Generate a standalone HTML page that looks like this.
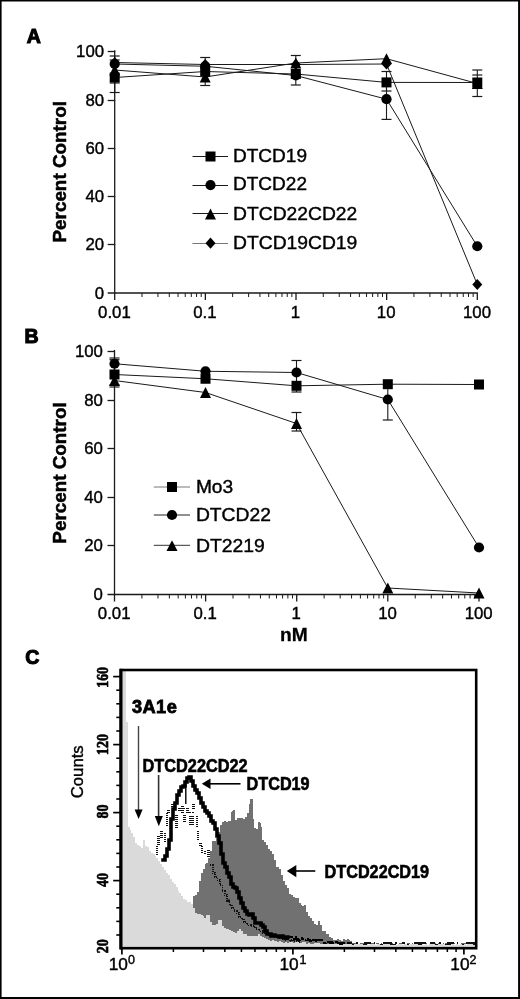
<!DOCTYPE html>
<html lang="en"><head><meta charset="utf-8"><title>Figure</title>
<style>html,body{margin:0;padding:0;background:#fff}body{width:520px;height:999px;overflow:hidden}svg text{fill:#000}</style></head>
<body>
<svg width="520" height="999" viewBox="0 0 520 999" style="display:block">
<g>
<rect x="-10" y="-10" width="540" height="1019" fill="#fff"/>
<path d="M-10,-10H530V1009H-10Z M1.6,1.6V997.1H518.1V1.6Z" fill="#000" fill-rule="evenodd"/>
<g id="panelA">
<line x1="114.70" y1="50.30" x2="114.70" y2="293.50" stroke="#1a1a1a" stroke-width="1.3"/>
<line x1="107.70" y1="293.00" x2="477.80" y2="293.00" stroke="#1a1a1a" stroke-width="1.3"/>
<line x1="107.70" y1="51.50" x2="115.20" y2="51.50" stroke="#1a1a1a" stroke-width="1.3"/>
<text x="104.10" y="57.10" font-family='"Liberation Sans", Arial, Helvetica, sans-serif' font-size="16.8" font-weight="normal" text-anchor="end"  stroke="#000" stroke-width="0.4">100</text>
<line x1="107.70" y1="100.50" x2="115.20" y2="100.50" stroke="#1a1a1a" stroke-width="1.3"/>
<text x="104.10" y="106.10" font-family='"Liberation Sans", Arial, Helvetica, sans-serif' font-size="16.8" font-weight="normal" text-anchor="end"  stroke="#000" stroke-width="0.4">80</text>
<line x1="107.70" y1="148.50" x2="115.20" y2="148.50" stroke="#1a1a1a" stroke-width="1.3"/>
<text x="104.10" y="154.10" font-family='"Liberation Sans", Arial, Helvetica, sans-serif' font-size="16.8" font-weight="normal" text-anchor="end"  stroke="#000" stroke-width="0.4">60</text>
<line x1="107.70" y1="196.50" x2="115.20" y2="196.50" stroke="#1a1a1a" stroke-width="1.3"/>
<text x="104.10" y="202.10" font-family='"Liberation Sans", Arial, Helvetica, sans-serif' font-size="16.8" font-weight="normal" text-anchor="end"  stroke="#000" stroke-width="0.4">40</text>
<line x1="107.70" y1="244.50" x2="115.20" y2="244.50" stroke="#1a1a1a" stroke-width="1.3"/>
<text x="104.10" y="250.10" font-family='"Liberation Sans", Arial, Helvetica, sans-serif' font-size="16.8" font-weight="normal" text-anchor="end"  stroke="#000" stroke-width="0.4">20</text>
<text x="104.10" y="299.10" font-family='"Liberation Sans", Arial, Helvetica, sans-serif' font-size="16.8" font-weight="normal" text-anchor="end"  stroke="#000" stroke-width="0.4">0</text>
<line x1="114.70" y1="293.00" x2="114.70" y2="300.00" stroke="#1a1a1a" stroke-width="1.3"/>
<line x1="141.99" y1="293.00" x2="141.99" y2="297.00" stroke="#1a1a1a" stroke-width="1.0"/>
<line x1="157.95" y1="293.00" x2="157.95" y2="297.00" stroke="#1a1a1a" stroke-width="1.0"/>
<line x1="169.28" y1="293.00" x2="169.28" y2="297.00" stroke="#1a1a1a" stroke-width="1.0"/>
<line x1="178.06" y1="293.00" x2="178.06" y2="297.00" stroke="#1a1a1a" stroke-width="1.0"/>
<line x1="185.24" y1="293.00" x2="185.24" y2="297.00" stroke="#1a1a1a" stroke-width="1.0"/>
<line x1="191.31" y1="293.00" x2="191.31" y2="297.00" stroke="#1a1a1a" stroke-width="1.0"/>
<line x1="196.57" y1="293.00" x2="196.57" y2="297.00" stroke="#1a1a1a" stroke-width="1.0"/>
<line x1="201.20" y1="293.00" x2="201.20" y2="297.00" stroke="#1a1a1a" stroke-width="1.0"/>
<line x1="205.35" y1="293.00" x2="205.35" y2="300.00" stroke="#1a1a1a" stroke-width="1.3"/>
<line x1="232.64" y1="293.00" x2="232.64" y2="297.00" stroke="#1a1a1a" stroke-width="1.0"/>
<line x1="248.60" y1="293.00" x2="248.60" y2="297.00" stroke="#1a1a1a" stroke-width="1.0"/>
<line x1="259.93" y1="293.00" x2="259.93" y2="297.00" stroke="#1a1a1a" stroke-width="1.0"/>
<line x1="268.71" y1="293.00" x2="268.71" y2="297.00" stroke="#1a1a1a" stroke-width="1.0"/>
<line x1="275.89" y1="293.00" x2="275.89" y2="297.00" stroke="#1a1a1a" stroke-width="1.0"/>
<line x1="281.96" y1="293.00" x2="281.96" y2="297.00" stroke="#1a1a1a" stroke-width="1.0"/>
<line x1="287.22" y1="293.00" x2="287.22" y2="297.00" stroke="#1a1a1a" stroke-width="1.0"/>
<line x1="291.85" y1="293.00" x2="291.85" y2="297.00" stroke="#1a1a1a" stroke-width="1.0"/>
<line x1="296.00" y1="293.00" x2="296.00" y2="300.00" stroke="#1a1a1a" stroke-width="1.3"/>
<line x1="323.29" y1="293.00" x2="323.29" y2="297.00" stroke="#1a1a1a" stroke-width="1.0"/>
<line x1="339.25" y1="293.00" x2="339.25" y2="297.00" stroke="#1a1a1a" stroke-width="1.0"/>
<line x1="350.58" y1="293.00" x2="350.58" y2="297.00" stroke="#1a1a1a" stroke-width="1.0"/>
<line x1="359.36" y1="293.00" x2="359.36" y2="297.00" stroke="#1a1a1a" stroke-width="1.0"/>
<line x1="366.54" y1="293.00" x2="366.54" y2="297.00" stroke="#1a1a1a" stroke-width="1.0"/>
<line x1="372.61" y1="293.00" x2="372.61" y2="297.00" stroke="#1a1a1a" stroke-width="1.0"/>
<line x1="377.87" y1="293.00" x2="377.87" y2="297.00" stroke="#1a1a1a" stroke-width="1.0"/>
<line x1="382.50" y1="293.00" x2="382.50" y2="297.00" stroke="#1a1a1a" stroke-width="1.0"/>
<line x1="386.65" y1="293.00" x2="386.65" y2="300.00" stroke="#1a1a1a" stroke-width="1.3"/>
<line x1="413.94" y1="293.00" x2="413.94" y2="297.00" stroke="#1a1a1a" stroke-width="1.0"/>
<line x1="429.90" y1="293.00" x2="429.90" y2="297.00" stroke="#1a1a1a" stroke-width="1.0"/>
<line x1="441.23" y1="293.00" x2="441.23" y2="297.00" stroke="#1a1a1a" stroke-width="1.0"/>
<line x1="450.01" y1="293.00" x2="450.01" y2="297.00" stroke="#1a1a1a" stroke-width="1.0"/>
<line x1="457.19" y1="293.00" x2="457.19" y2="297.00" stroke="#1a1a1a" stroke-width="1.0"/>
<line x1="463.26" y1="293.00" x2="463.26" y2="297.00" stroke="#1a1a1a" stroke-width="1.0"/>
<line x1="468.52" y1="293.00" x2="468.52" y2="297.00" stroke="#1a1a1a" stroke-width="1.0"/>
<line x1="473.15" y1="293.00" x2="473.15" y2="297.00" stroke="#1a1a1a" stroke-width="1.0"/>
<line x1="477.30" y1="293.00" x2="477.30" y2="300.00" stroke="#1a1a1a" stroke-width="1.3"/>
<text x="114.40" y="318.00" font-family='"Liberation Sans", Arial, Helvetica, sans-serif' font-size="16.8" font-weight="normal" text-anchor="middle"  stroke="#000" stroke-width="0.4">0.01</text>
<text x="204.90" y="318.00" font-family='"Liberation Sans", Arial, Helvetica, sans-serif' font-size="16.8" font-weight="normal" text-anchor="middle"  stroke="#000" stroke-width="0.4">0.1</text>
<text x="295.50" y="318.00" font-family='"Liberation Sans", Arial, Helvetica, sans-serif' font-size="16.8" font-weight="normal" text-anchor="middle"  stroke="#000" stroke-width="0.4">1</text>
<text x="386.20" y="318.00" font-family='"Liberation Sans", Arial, Helvetica, sans-serif' font-size="16.8" font-weight="normal" text-anchor="middle"  stroke="#000" stroke-width="0.4">10</text>
<text x="477.00" y="318.00" font-family='"Liberation Sans", Arial, Helvetica, sans-serif' font-size="16.8" font-weight="normal" text-anchor="middle"  stroke="#000" stroke-width="0.4">100</text>
<polyline points="114.70,77.50 205.20,71.50 295.80,74.00 386.50,82.40 477.30,82.50" fill="none" stroke="#1a1a1a" stroke-width="1.0" />
<polyline points="114.70,64.00 205.20,66.25 295.80,75.50 386.50,99.20 477.30,246.25" fill="none" stroke="#1a1a1a" stroke-width="1.0" />
<polyline points="114.70,70.00 205.20,77.00 295.80,63.00 386.50,58.70 477.30,83.50" fill="none" stroke="#1a1a1a" stroke-width="1.0" />
<polyline points="114.70,62.50 205.20,64.50 295.80,64.50 386.50,64.00 477.30,284.50" fill="none" stroke="#1a1a1a" stroke-width="1.0" />
<line x1="114.70" y1="56.00" x2="114.70" y2="92.50" stroke="#1a1a1a" stroke-width="1.1"/><line x1="109.70" y1="56.00" x2="119.70" y2="56.00" stroke="#1a1a1a" stroke-width="1.2"/><line x1="109.70" y1="92.50" x2="119.70" y2="92.50" stroke="#1a1a1a" stroke-width="1.2"/>
<line x1="109.70" y1="60.00" x2="119.70" y2="60.00" stroke="#1a1a1a" stroke-width="1.2"/>
<line x1="109.70" y1="83.00" x2="119.70" y2="83.00" stroke="#1a1a1a" stroke-width="1.2"/>
<line x1="205.20" y1="57.50" x2="205.20" y2="85.50" stroke="#1a1a1a" stroke-width="1.1"/><line x1="200.20" y1="57.50" x2="210.20" y2="57.50" stroke="#1a1a1a" stroke-width="1.2"/><line x1="200.20" y1="85.50" x2="210.20" y2="85.50" stroke="#1a1a1a" stroke-width="1.2"/>
<line x1="295.80" y1="55.50" x2="295.80" y2="85.00" stroke="#1a1a1a" stroke-width="1.1"/><line x1="290.80" y1="55.50" x2="300.80" y2="55.50" stroke="#1a1a1a" stroke-width="1.2"/><line x1="290.80" y1="85.00" x2="300.80" y2="85.00" stroke="#1a1a1a" stroke-width="1.2"/>
<line x1="386.50" y1="71.50" x2="386.50" y2="91.00" stroke="#1a1a1a" stroke-width="1.1"/><line x1="381.50" y1="71.50" x2="391.50" y2="71.50" stroke="#1a1a1a" stroke-width="1.2"/><line x1="381.50" y1="91.00" x2="391.50" y2="91.00" stroke="#1a1a1a" stroke-width="1.2"/>
<line x1="386.50" y1="79.00" x2="386.50" y2="119.40" stroke="#1a1a1a" stroke-width="1.1"/><line x1="381.50" y1="119.40" x2="391.50" y2="119.40" stroke="#1a1a1a" stroke-width="1.2"/>
<line x1="477.30" y1="70.00" x2="477.30" y2="96.50" stroke="#1a1a1a" stroke-width="1.1"/><line x1="472.30" y1="70.00" x2="482.30" y2="70.00" stroke="#1a1a1a" stroke-width="1.2"/><line x1="472.30" y1="96.50" x2="482.30" y2="96.50" stroke="#1a1a1a" stroke-width="1.2"/>
<line x1="472.30" y1="75.00" x2="482.30" y2="75.00" stroke="#1a1a1a" stroke-width="1.2"/>
<rect x="109.70" y="72.50" width="10" height="10" fill="#000"/>
<rect x="200.20" y="66.50" width="10" height="10" fill="#000"/>
<rect x="290.80" y="69.00" width="10" height="10" fill="#000"/>
<rect x="381.50" y="77.40" width="10" height="10" fill="#000"/>
<rect x="472.30" y="77.50" width="10" height="10" fill="#000"/>
<circle cx="114.70" cy="64.00" r="5.1" fill="#000"/>
<circle cx="205.20" cy="66.25" r="5.1" fill="#000"/>
<circle cx="295.80" cy="75.50" r="5.1" fill="#000"/>
<circle cx="386.50" cy="99.20" r="5.1" fill="#000"/>
<circle cx="477.30" cy="246.25" r="5.1" fill="#000"/>
<polygon points="114.70,64.62 120.20,75.38 109.20,75.38" fill="#000"/>
<polygon points="205.20,71.62 210.70,82.38 199.70,82.38" fill="#000"/>
<polygon points="295.80,57.62 301.30,68.38 290.30,68.38" fill="#000"/>
<polygon points="386.50,53.33 392.00,64.08 381.00,64.08" fill="#000"/>
<polygon points="477.30,78.12 482.80,88.88 471.80,88.88" fill="#000"/>
<polygon points="114.70,56.90 119.70,62.50 114.70,68.10 109.70,62.50" fill="#000"/>
<polygon points="205.20,58.90 210.20,64.50 205.20,70.10 200.20,64.50" fill="#000"/>
<polygon points="295.80,58.90 300.80,64.50 295.80,70.10 290.80,64.50" fill="#000"/>
<polygon points="386.50,58.40 391.50,64.00 386.50,69.60 381.50,64.00" fill="#000"/>
<polygon points="477.30,278.90 482.30,284.50 477.30,290.10 472.30,284.50" fill="#000"/>
<line x1="192.50" y1="156.50" x2="228.00" y2="156.50" stroke="#1a1a1a" stroke-width="1.0"/>
<rect x="205.50" y="151.50" width="10" height="10" fill="#000"/>
<text x="233.00" y="162.00" font-family='"Liberation Sans", Arial, Helvetica, sans-serif' font-size="18.5" font-weight="normal" text-anchor="start" textLength="74" lengthAdjust="spacingAndGlyphs" stroke="#000" stroke-width="0.4">DTCD19</text>
<line x1="192.50" y1="185.50" x2="228.00" y2="185.50" stroke="#1a1a1a" stroke-width="1.0"/>
<circle cx="210.50" cy="185.10" r="5.1" fill="#000"/>
<text x="233.00" y="190.40" font-family='"Liberation Sans", Arial, Helvetica, sans-serif' font-size="18.5" font-weight="normal" text-anchor="start" textLength="74" lengthAdjust="spacingAndGlyphs" stroke="#000" stroke-width="0.4">DTCD22</text>
<line x1="192.50" y1="213.50" x2="228.00" y2="213.50" stroke="#1a1a1a" stroke-width="1.0"/>
<polygon points="210.50,208.62 216.00,219.38 205.00,219.38" fill="#000"/>
<text x="233.00" y="220.30" font-family='"Liberation Sans", Arial, Helvetica, sans-serif' font-size="18.5" font-weight="normal" text-anchor="start" textLength="124.3" lengthAdjust="spacingAndGlyphs" stroke="#000" stroke-width="0.4">DTCD22CD22</text>
<line x1="192.50" y1="243.50" x2="228.00" y2="243.50" stroke="#777" stroke-width="1.0"/>
<polygon points="210.50,237.60 215.50,243.20 210.50,248.80 205.50,243.20" fill="#000"/>
<text x="233.00" y="248.50" font-family='"Liberation Sans", Arial, Helvetica, sans-serif' font-size="18.5" font-weight="normal" text-anchor="start" textLength="124.3" lengthAdjust="spacingAndGlyphs" stroke="#000" stroke-width="0.4">DTCD19CD19</text>
<text x="0.00" y="0.00" font-family='"Liberation Sans", Arial, Helvetica, sans-serif' font-size="18.85" font-weight="bold" text-anchor="middle" transform="translate(65.5,171.8) rotate(-90)" stroke="#000" stroke-width="0.5">Percent Control</text>
<text x="26.70" y="43.30" font-family='"Liberation Sans", Arial, Helvetica, sans-serif' font-size="19.5" font-weight="bold" text-anchor="start" stroke="#000" stroke-width="1.1">A</text>
</g>
<g id="panelB">
<line x1="114.50" y1="349.90" x2="114.50" y2="595.00" stroke="#1a1a1a" stroke-width="1.3"/>
<line x1="107.50" y1="594.50" x2="479.50" y2="594.50" stroke="#1a1a1a" stroke-width="1.3"/>
<line x1="107.50" y1="351.50" x2="115.00" y2="351.50" stroke="#1a1a1a" stroke-width="1.3"/>
<text x="102.90" y="357.10" font-family='"Liberation Sans", Arial, Helvetica, sans-serif' font-size="16.8" font-weight="normal" text-anchor="end"  stroke="#000" stroke-width="0.4">100</text>
<line x1="107.50" y1="400.50" x2="115.00" y2="400.50" stroke="#1a1a1a" stroke-width="1.3"/>
<text x="102.90" y="406.10" font-family='"Liberation Sans", Arial, Helvetica, sans-serif' font-size="16.8" font-weight="normal" text-anchor="end"  stroke="#000" stroke-width="0.4">80</text>
<line x1="107.50" y1="448.50" x2="115.00" y2="448.50" stroke="#1a1a1a" stroke-width="1.3"/>
<text x="102.90" y="454.10" font-family='"Liberation Sans", Arial, Helvetica, sans-serif' font-size="16.8" font-weight="normal" text-anchor="end"  stroke="#000" stroke-width="0.4">60</text>
<line x1="107.50" y1="497.50" x2="115.00" y2="497.50" stroke="#1a1a1a" stroke-width="1.3"/>
<text x="102.90" y="503.10" font-family='"Liberation Sans", Arial, Helvetica, sans-serif' font-size="16.8" font-weight="normal" text-anchor="end"  stroke="#000" stroke-width="0.4">40</text>
<line x1="107.50" y1="545.50" x2="115.00" y2="545.50" stroke="#1a1a1a" stroke-width="1.3"/>
<text x="102.90" y="551.10" font-family='"Liberation Sans", Arial, Helvetica, sans-serif' font-size="16.8" font-weight="normal" text-anchor="end"  stroke="#000" stroke-width="0.4">20</text>
<text x="102.90" y="600.10" font-family='"Liberation Sans", Arial, Helvetica, sans-serif' font-size="16.8" font-weight="normal" text-anchor="end"  stroke="#000" stroke-width="0.4">0</text>
<line x1="114.50" y1="594.50" x2="114.50" y2="601.50" stroke="#1a1a1a" stroke-width="1.3"/>
<line x1="141.92" y1="594.50" x2="141.92" y2="598.50" stroke="#1a1a1a" stroke-width="1.0"/>
<line x1="157.97" y1="594.50" x2="157.97" y2="598.50" stroke="#1a1a1a" stroke-width="1.0"/>
<line x1="169.35" y1="594.50" x2="169.35" y2="598.50" stroke="#1a1a1a" stroke-width="1.0"/>
<line x1="178.18" y1="594.50" x2="178.18" y2="598.50" stroke="#1a1a1a" stroke-width="1.0"/>
<line x1="185.39" y1="594.50" x2="185.39" y2="598.50" stroke="#1a1a1a" stroke-width="1.0"/>
<line x1="191.49" y1="594.50" x2="191.49" y2="598.50" stroke="#1a1a1a" stroke-width="1.0"/>
<line x1="196.77" y1="594.50" x2="196.77" y2="598.50" stroke="#1a1a1a" stroke-width="1.0"/>
<line x1="201.43" y1="594.50" x2="201.43" y2="598.50" stroke="#1a1a1a" stroke-width="1.0"/>
<line x1="205.60" y1="594.50" x2="205.60" y2="601.50" stroke="#1a1a1a" stroke-width="1.3"/>
<line x1="233.02" y1="594.50" x2="233.02" y2="598.50" stroke="#1a1a1a" stroke-width="1.0"/>
<line x1="249.07" y1="594.50" x2="249.07" y2="598.50" stroke="#1a1a1a" stroke-width="1.0"/>
<line x1="260.45" y1="594.50" x2="260.45" y2="598.50" stroke="#1a1a1a" stroke-width="1.0"/>
<line x1="269.28" y1="594.50" x2="269.28" y2="598.50" stroke="#1a1a1a" stroke-width="1.0"/>
<line x1="276.49" y1="594.50" x2="276.49" y2="598.50" stroke="#1a1a1a" stroke-width="1.0"/>
<line x1="282.59" y1="594.50" x2="282.59" y2="598.50" stroke="#1a1a1a" stroke-width="1.0"/>
<line x1="287.87" y1="594.50" x2="287.87" y2="598.50" stroke="#1a1a1a" stroke-width="1.0"/>
<line x1="292.53" y1="594.50" x2="292.53" y2="598.50" stroke="#1a1a1a" stroke-width="1.0"/>
<line x1="296.70" y1="594.50" x2="296.70" y2="601.50" stroke="#1a1a1a" stroke-width="1.3"/>
<line x1="324.12" y1="594.50" x2="324.12" y2="598.50" stroke="#1a1a1a" stroke-width="1.0"/>
<line x1="340.17" y1="594.50" x2="340.17" y2="598.50" stroke="#1a1a1a" stroke-width="1.0"/>
<line x1="351.55" y1="594.50" x2="351.55" y2="598.50" stroke="#1a1a1a" stroke-width="1.0"/>
<line x1="360.38" y1="594.50" x2="360.38" y2="598.50" stroke="#1a1a1a" stroke-width="1.0"/>
<line x1="367.59" y1="594.50" x2="367.59" y2="598.50" stroke="#1a1a1a" stroke-width="1.0"/>
<line x1="373.69" y1="594.50" x2="373.69" y2="598.50" stroke="#1a1a1a" stroke-width="1.0"/>
<line x1="378.97" y1="594.50" x2="378.97" y2="598.50" stroke="#1a1a1a" stroke-width="1.0"/>
<line x1="383.63" y1="594.50" x2="383.63" y2="598.50" stroke="#1a1a1a" stroke-width="1.0"/>
<line x1="387.80" y1="594.50" x2="387.80" y2="601.50" stroke="#1a1a1a" stroke-width="1.3"/>
<line x1="415.22" y1="594.50" x2="415.22" y2="598.50" stroke="#1a1a1a" stroke-width="1.0"/>
<line x1="431.27" y1="594.50" x2="431.27" y2="598.50" stroke="#1a1a1a" stroke-width="1.0"/>
<line x1="442.65" y1="594.50" x2="442.65" y2="598.50" stroke="#1a1a1a" stroke-width="1.0"/>
<line x1="451.48" y1="594.50" x2="451.48" y2="598.50" stroke="#1a1a1a" stroke-width="1.0"/>
<line x1="458.69" y1="594.50" x2="458.69" y2="598.50" stroke="#1a1a1a" stroke-width="1.0"/>
<line x1="464.79" y1="594.50" x2="464.79" y2="598.50" stroke="#1a1a1a" stroke-width="1.0"/>
<line x1="470.07" y1="594.50" x2="470.07" y2="598.50" stroke="#1a1a1a" stroke-width="1.0"/>
<line x1="474.73" y1="594.50" x2="474.73" y2="598.50" stroke="#1a1a1a" stroke-width="1.0"/>
<line x1="479.00" y1="594.50" x2="479.00" y2="601.50" stroke="#1a1a1a" stroke-width="1.3"/>
<text x="114.20" y="619.20" font-family='"Liberation Sans", Arial, Helvetica, sans-serif' font-size="16.8" font-weight="normal" text-anchor="middle"  stroke="#000" stroke-width="0.4">0.01</text>
<text x="205.20" y="619.20" font-family='"Liberation Sans", Arial, Helvetica, sans-serif' font-size="16.8" font-weight="normal" text-anchor="middle"  stroke="#000" stroke-width="0.4">0.1</text>
<text x="296.20" y="619.20" font-family='"Liberation Sans", Arial, Helvetica, sans-serif' font-size="16.8" font-weight="normal" text-anchor="middle"  stroke="#000" stroke-width="0.4">1</text>
<text x="387.50" y="619.20" font-family='"Liberation Sans", Arial, Helvetica, sans-serif' font-size="16.8" font-weight="normal" text-anchor="middle"  stroke="#000" stroke-width="0.4">10</text>
<text x="478.70" y="619.20" font-family='"Liberation Sans", Arial, Helvetica, sans-serif' font-size="16.8" font-weight="normal" text-anchor="middle"  stroke="#000" stroke-width="0.4">100</text>
<polyline points="114.50,374.50 205.50,378.75 296.50,385.80 387.80,384.20 479.00,384.50" fill="none" stroke="#1a1a1a" stroke-width="1.0" />
<polyline points="114.50,363.75 205.50,371.25 296.50,372.50 387.80,399.50 479.00,547.50" fill="none" stroke="#1a1a1a" stroke-width="1.0" />
<polyline points="114.50,380.50 205.50,392.50 296.50,423.50 387.80,588.00 479.00,593.00" fill="none" stroke="#1a1a1a" stroke-width="1.0" />
<line x1="114.50" y1="358.00" x2="114.50" y2="387.00" stroke="#1a1a1a" stroke-width="1.1"/><line x1="109.50" y1="358.00" x2="119.50" y2="358.00" stroke="#1a1a1a" stroke-width="1.2"/><line x1="109.50" y1="387.00" x2="119.50" y2="387.00" stroke="#1a1a1a" stroke-width="1.2"/>
<line x1="109.50" y1="359.70" x2="119.50" y2="359.70" stroke="#1a1a1a" stroke-width="1.2"/>
<line x1="109.50" y1="385.00" x2="119.50" y2="385.00" stroke="#1a1a1a" stroke-width="1.2"/>
<line x1="296.50" y1="360.50" x2="296.50" y2="392.00" stroke="#1a1a1a" stroke-width="1.1"/><line x1="291.50" y1="360.50" x2="301.50" y2="360.50" stroke="#1a1a1a" stroke-width="1.2"/><line x1="291.50" y1="392.00" x2="301.50" y2="392.00" stroke="#1a1a1a" stroke-width="1.2"/>
<line x1="296.50" y1="412.50" x2="296.50" y2="431.00" stroke="#1a1a1a" stroke-width="1.1"/><line x1="291.50" y1="412.50" x2="301.50" y2="412.50" stroke="#1a1a1a" stroke-width="1.2"/><line x1="291.50" y1="431.00" x2="301.50" y2="431.00" stroke="#1a1a1a" stroke-width="1.2"/>
<line x1="387.80" y1="384.00" x2="387.80" y2="420.00" stroke="#1a1a1a" stroke-width="1.1"/><line x1="382.80" y1="420.00" x2="392.80" y2="420.00" stroke="#1a1a1a" stroke-width="1.2"/>
<rect x="109.50" y="369.50" width="10" height="10" fill="#000"/>
<rect x="200.50" y="373.75" width="10" height="10" fill="#000"/>
<rect x="291.50" y="380.80" width="10" height="10" fill="#000"/>
<rect x="382.80" y="379.20" width="10" height="10" fill="#000"/>
<rect x="474.00" y="379.50" width="10" height="10" fill="#000"/>
<circle cx="114.50" cy="363.75" r="5.1" fill="#000"/>
<circle cx="205.50" cy="371.25" r="5.1" fill="#000"/>
<circle cx="296.50" cy="372.50" r="5.1" fill="#000"/>
<circle cx="387.80" cy="399.50" r="5.1" fill="#000"/>
<circle cx="479.00" cy="547.50" r="5.1" fill="#000"/>
<polygon points="114.50,375.12 120.00,385.88 109.00,385.88" fill="#000"/>
<polygon points="205.50,387.12 211.00,397.88 200.00,397.88" fill="#000"/>
<polygon points="296.50,418.12 302.00,428.88 291.00,428.88" fill="#000"/>
<polygon points="387.80,582.62 393.30,593.38 382.30,593.38" fill="#000"/>
<polygon points="479.00,587.62 484.50,598.38 473.50,598.38" fill="#000"/>
<line x1="153.80" y1="487.00" x2="190.00" y2="487.00" stroke="#777" stroke-width="1.0"/>
<rect x="167.00" y="482.00" width="10" height="10" fill="#000"/>
<text x="195.90" y="493.30" font-family='"Liberation Sans", Arial, Helvetica, sans-serif' font-size="18.5" font-weight="normal" text-anchor="start" textLength="37.3" lengthAdjust="spacingAndGlyphs" stroke="#000" stroke-width="0.4">Mo3</text>
<line x1="153.80" y1="515.00" x2="190.00" y2="515.00" stroke="#222" stroke-width="1.0"/>
<circle cx="172.00" cy="515.00" r="5.1" fill="#000"/>
<text x="195.90" y="521.30" font-family='"Liberation Sans", Arial, Helvetica, sans-serif' font-size="18.5" font-weight="normal" text-anchor="start" textLength="75" lengthAdjust="spacingAndGlyphs" stroke="#000" stroke-width="0.4">DTCD22</text>
<line x1="153.80" y1="545.30" x2="190.00" y2="545.30" stroke="#333" stroke-width="1.0"/>
<polygon points="172.00,540.22 177.50,550.97 166.50,550.97" fill="#000"/>
<text x="195.90" y="551.60" font-family='"Liberation Sans", Arial, Helvetica, sans-serif' font-size="18.5" font-weight="normal" text-anchor="start" textLength="69" lengthAdjust="spacingAndGlyphs" stroke="#000" stroke-width="0.4">DT2219</text>
<text x="0.00" y="0.00" font-family='"Liberation Sans", Arial, Helvetica, sans-serif' font-size="18.85" font-weight="bold" text-anchor="middle" transform="translate(65.5,473) rotate(-90)" stroke="#000" stroke-width="0.5">Percent Control</text>
<text x="24.60" y="343.30" font-family='"Liberation Sans", Arial, Helvetica, sans-serif' font-size="19.5" font-weight="bold" text-anchor="start" stroke="#000" stroke-width="1.1">B</text>
<text x="293.90" y="641.20" font-family='"Liberation Sans", Arial, Helvetica, sans-serif' font-size="19.2" font-weight="bold" text-anchor="middle" stroke="#000" stroke-width="0.3">nM</text>
</g>
<g id="panelC">
<polygon points="193.0,948.0 193.0,905.0 193.0,896.0 194.9,896.0 194.9,895.0 196.8,895.0 196.8,892.0 198.8,892.0 198.8,881.0 200.7,881.0 200.7,873.0 202.6,873.0 202.6,869.0 204.5,869.0 204.5,864.0 206.4,864.0 206.4,863.0 208.4,863.0 208.4,858.0 210.3,858.0 210.3,851.0 212.2,851.0 212.2,841.0 214.1,841.0 214.1,841.0 216.0,841.0 216.0,838.0 218.0,838.0 218.0,832.0 219.9,832.0 219.9,825.0 221.8,825.0 221.8,822.0 223.7,822.0 223.7,821.0 225.6,821.0 225.6,822.0 227.6,822.0 227.6,821.0 229.5,821.0 229.5,821.0 231.4,821.0 231.4,812.0 233.3,812.0 233.3,810.0 235.2,810.0 235.2,820.0 237.2,820.0 237.2,818.0 239.1,818.0 239.1,818.0 241.0,818.0 241.0,818.0 242.9,818.0 242.9,819.0 244.8,819.0 244.8,817.0 246.8,817.0 246.8,813.0 248.7,813.0 248.7,804.0 250.6,804.0 250.6,799.0 252.5,799.0 252.5,819.0 254.4,819.0 254.4,828.0 256.4,828.0 256.4,829.0 258.3,829.0 258.3,822.0 260.2,822.0 260.2,827.0 262.1,827.0 262.1,840.0 264.0,840.0 264.0,842.0 266.0,842.0 266.0,845.0 267.9,845.0 267.9,849.0 269.8,849.0 269.8,851.0 271.7,851.0 271.7,854.0 273.6,854.0 273.6,860.0 275.6,860.0 275.6,867.0 277.5,867.0 277.5,867.0 279.4,867.0 279.4,869.0 281.3,869.0 281.3,875.0 283.2,875.0 283.2,881.0 285.2,881.0 285.2,885.0 287.1,885.0 287.1,888.0 289.0,888.0 289.0,894.0 290.9,894.0 290.9,895.0 292.8,895.0 292.8,897.0 294.8,897.0 294.8,898.0 296.7,898.0 296.7,898.0 298.6,898.0 298.6,903.0 300.5,903.0 300.5,905.0 302.4,905.0 302.4,906.0 304.4,906.0 304.4,905.0 306.3,905.0 306.3,912.0 308.2,912.0 308.2,916.0 310.1,916.0 310.1,918.0 312.0,918.0 312.0,921.0 314.0,921.0 314.0,924.0 315.9,924.0 315.9,925.0 317.8,925.0 317.8,921.0 319.7,921.0 319.7,925.0 321.6,925.0 321.6,931.0 323.6,931.0 323.6,931.0 325.5,931.0 325.5,934.0 327.4,934.0 327.4,934.0 329.3,934.0 329.3,937.0 331.2,937.0 331.2,938.0 333.2,938.0 333.2,940.0 335.1,940.0 335.1,940.0 337.0,940.0 337.0,939.0 338.9,939.0 338.9,940.0 340.8,940.0 340.8,941.0 342.8,941.0 342.8,939.0 344.7,939.0 344.7,940.0 346.6,940.0 346.6,939.0 348.5,939.0 348.5,940.0 350.4,940.0 350.4,941.0 352.4,941.0 352.4,944.0 354.3,944.0 354.3,943.0 356.2,943.0 356.2,943.0 358.1,943.0 358.1,944.0 360.0,944.0 360.0,945.0 362.0,945.0 362.0,943.0 363.9,943.0 363.9,944.0 365.8,944.0 365.8,945.0 367.7,945.0 367.7,946.0 369.6,946.0 369.6,946.0 371.6,946.0 371.6,946.0 372.0,946.0 372.0,948.0" fill="#717171" shape-rendering="crispEdges"/>
<rect x="232.4" y="811" width="1.9" height="12" fill="#717171" shape-rendering="crispEdges"/>
<rect x="250" y="798.6" width="1.9" height="18" fill="#717171" shape-rendering="crispEdges"/>
<rect x="258.9" y="822.5" width="1.9" height="12" fill="#717171" shape-rendering="crispEdges"/>
<polygon points="122.0,670.5 125.8,670.5 125.8,721.5 127.6,721.5 127.6,827.0 129.5,827.0 129.5,830.0 131.4,830.0 131.4,833.0 133.4,833.0 133.4,837.0 135.3,837.0 135.3,843.0 137.2,843.0 137.2,845.0 139.1,845.0 139.1,846.0 141.0,846.0 141.0,848.0 143.0,848.0 143.0,840.0 144.9,840.0 144.9,846.0 146.8,846.0 146.8,847.0 148.7,847.0 148.7,851.0 150.6,851.0 150.6,853.0 152.6,853.0 152.6,854.0 154.5,854.0 154.5,856.0 156.4,856.0 156.4,858.0 158.3,858.0 158.3,861.0 160.2,861.0 160.2,864.0 162.2,864.0 162.2,867.0 164.1,867.0 164.1,870.0 166.0,870.0 166.0,873.0 167.9,873.0 167.9,875.0 169.8,875.0 169.8,879.0 171.8,879.0 171.8,882.0 173.7,882.0 173.7,884.0 175.6,884.0 175.6,887.0 177.5,887.0 177.5,891.0 179.4,891.0 179.4,893.0 181.4,893.0 181.4,896.0 183.3,896.0 183.3,899.0 185.2,899.0 185.2,900.0 187.1,900.0 187.1,902.0 189.0,902.0 189.0,902.0 191.0,902.0 191.0,904.0 192.9,904.0 192.9,908.0 194.8,908.0 194.8,913.0 196.7,913.0 196.7,914.0 198.6,914.0 198.6,914.0 200.6,914.0 200.6,915.0 202.5,915.0 202.5,916.0 204.4,916.0 204.4,918.0 206.3,918.0 206.3,915.0 208.2,915.0 208.2,915.0 210.2,915.0 210.2,922.0 212.1,922.0 212.1,925.0 214.0,925.0 214.0,925.0 215.9,925.0 215.9,924.0 217.8,924.0 217.8,920.0 219.8,920.0 219.8,920.0 221.7,920.0 221.7,926.0 223.6,926.0 223.6,928.0 225.5,928.0 225.5,929.0 227.4,929.0 227.4,929.0 229.4,929.0 229.4,930.0 231.3,930.0 231.3,931.0 233.2,931.0 233.2,932.0 235.1,932.0 235.1,933.0 237.0,933.0 237.0,931.0 239.0,931.0 239.0,929.0 240.9,929.0 240.9,931.0 242.8,931.0 242.8,934.0 244.7,934.0 244.7,934.0 246.6,934.0 246.6,936.0 248.6,936.0 248.6,936.0 250.5,936.0 250.5,936.0 252.4,936.0 252.4,936.0 254.3,936.0 254.3,936.0 256.2,936.0 256.2,936.0 258.2,936.0 258.2,934.0 260.1,934.0 260.1,936.0 262.0,936.0 262.0,937.0 263.9,937.0 263.9,938.0 265.8,938.0 265.8,939.0 267.8,939.0 267.8,940.0 269.7,940.0 269.7,941.0 271.6,941.0 271.6,940.0 273.5,940.0 273.5,941.0 275.4,941.0 275.4,941.0 277.4,941.0 277.4,942.0 279.3,942.0 279.3,941.0 281.2,941.0 281.2,942.0 283.1,942.0 283.1,943.0 285.0,943.0 285.0,942.0 287.0,942.0 287.0,943.0 288.9,943.0 288.9,942.0 290.8,942.0 290.8,942.0 292.7,942.0 292.7,943.0 294.6,943.0 294.6,942.0 296.6,942.0 296.6,942.0 298.5,942.0 298.5,943.0 300.4,943.0 300.4,943.0 302.3,943.0 302.3,942.0 304.2,942.0 304.2,942.0 306.2,942.0 306.2,944.0 308.1,944.0 308.1,943.0 310.0,943.0 310.0,944.0 311.9,944.0 311.9,944.0 313.8,944.0 313.8,943.0 315.8,943.0 315.8,943.0 317.7,943.0 317.7,943.0 319.6,943.0 319.6,944.0 321.5,944.0 321.5,944.0 323.4,944.0 323.4,944.0 325.4,944.0 325.4,944.0 327.3,944.0 327.3,944.0 329.2,944.0 329.2,944.0 331.1,944.0 331.1,944.0 333.0,944.0 333.0,944.0 335.0,944.0 335.0,944.0 336.9,944.0 336.9,944.0 338.8,944.0 338.8,945.0 340.7,945.0 340.7,944.0 342.6,944.0 342.6,944.0 344.6,944.0 344.6,944.0 346.5,944.0 346.5,944.0 348.4,944.0 348.4,944.0 350.3,944.0 350.3,944.0 352.2,944.0 352.2,944.0 354.2,944.0 354.2,944.0 356.1,944.0 356.1,944.0 358.0,944.0 358.0,944.0 359.9,944.0 359.9,944.0 361.8,944.0 361.8,944.0 363.8,944.0 363.8,944.0 365.7,944.0 365.7,944.0 367.6,944.0 367.6,945.0 369.5,945.0 369.5,944.0 371.4,944.0 371.4,944.0 373.4,944.0 373.4,944.0 375.3,944.0 375.3,945.0 377.2,945.0 377.2,944.0 379.1,944.0 379.1,944.0 381.0,944.0 381.0,944.0 383.0,944.0 383.0,944.0 384.9,944.0 384.9,944.0 386.8,944.0 386.8,944.0 388.7,944.0 388.7,944.0 390.6,944.0 390.6,944.0 392.6,944.0 392.6,944.0 394.5,944.0 394.5,944.0 396.4,944.0 396.4,945.0 398.3,945.0 398.3,944.0 400.2,944.0 400.2,944.0 402.2,944.0 402.2,945.0 404.1,945.0 404.1,944.0 406.0,944.0 406.0,944.0 407.9,944.0 407.9,945.0 409.8,945.0 409.8,944.0 411.8,944.0 411.8,944.0 413.7,944.0 413.7,944.0 415.6,944.0 415.6,944.0 417.5,944.0 417.5,944.0 419.4,944.0 419.4,944.0 421.4,944.0 421.4,944.0 423.3,944.0 423.3,945.0 425.2,945.0 425.2,944.0 427.1,944.0 427.1,945.0 429.0,945.0 429.0,944.0 431.0,944.0 431.0,944.0 432.9,944.0 432.9,944.0 434.8,944.0 434.8,945.0 436.7,945.0 436.7,944.0 438.6,944.0 438.6,944.0 440.6,944.0 440.6,944.0 442.5,944.0 442.5,944.0 444.4,944.0 444.4,944.0 446.3,944.0 446.3,945.0 448.2,945.0 448.2,945.0 450.2,945.0 450.2,944.0 452.1,944.0 452.1,944.0 454.0,944.0 454.0,945.0 455.9,945.0 455.9,944.0 457.8,944.0 457.8,945.0 459.8,945.0 459.8,944.0 461.7,944.0 461.7,944.0 463.6,944.0 463.6,944.0 465.5,944.0 465.5,945.0 467.4,945.0 467.4,944.0 469.4,944.0 469.4,944.0 471.3,944.0 471.3,944.0 473.2,944.0 473.2,944.0 475.1,944.0 475.1,944.0 476.0,944.0 476.0,948.0 122.0,948.0" fill="#dadada" shape-rendering="crispEdges"/>
<path d="M345,943.2 H476" stroke="#666" stroke-width="1.4" stroke-dasharray="3 2 1 1 5 3 2 2 1 3 6 2" fill="none" shape-rendering="crispEdges"/>
<path d="M347,943 H476" stroke="#111" stroke-width="2" stroke-dasharray="5 4 2 6 7 3 1 8 9 3 2 5 3 9 12 4" fill="none" shape-rendering="crispEdges"/>
<path d="M352,944.4 H476" stroke="#111" stroke-width="1" stroke-dasharray="2 9 4 13 3 7 6 11" fill="none" shape-rendering="crispEdges"/>
<line x1="157" y1="846" x2="157" y2="855" stroke="#111" stroke-width="2.7" stroke-dasharray="1 1" shape-rendering="crispEdges"/>
<line x1="158.8" y1="836" x2="158.8" y2="845" stroke="#111" stroke-width="2.7" stroke-dasharray="1 1" shape-rendering="crispEdges"/>
<line x1="161.3" y1="831" x2="161.3" y2="839" stroke="#111" stroke-width="2.7" stroke-dasharray="1 1" shape-rendering="crispEdges"/>
<line x1="165" y1="832.5" x2="165" y2="842.5" stroke="#111" stroke-width="2.7" stroke-dasharray="1 1" shape-rendering="crispEdges"/>
<line x1="167" y1="812.5" x2="167" y2="826" stroke="#111" stroke-width="2.7" stroke-dasharray="1 1" shape-rendering="crispEdges"/>
<line x1="168.8" y1="810" x2="168.8" y2="812.5" stroke="#111" stroke-width="2.7" stroke-dasharray="1 1" shape-rendering="crispEdges"/>
<line x1="172.5" y1="803.5" x2="172.5" y2="806.5" stroke="#111" stroke-width="2.7" stroke-dasharray="1 1" shape-rendering="crispEdges"/>
<line x1="176.3" y1="815" x2="176.3" y2="827.5" stroke="#111" stroke-width="2.7" stroke-dasharray="1 1" shape-rendering="crispEdges"/>
<line x1="182.5" y1="806" x2="182.5" y2="812.5" stroke="#111" stroke-width="2.7" stroke-dasharray="1 1" shape-rendering="crispEdges"/>
<line x1="184.4" y1="815" x2="184.4" y2="822.5" stroke="#111" stroke-width="2.7" stroke-dasharray="1 1" shape-rendering="crispEdges"/>
<line x1="193.8" y1="804" x2="193.8" y2="810" stroke="#111" stroke-width="2.7" stroke-dasharray="1 1" shape-rendering="crispEdges"/>
<line x1="190" y1="816" x2="190" y2="825" stroke="#111" stroke-width="2.7" stroke-dasharray="1 1" shape-rendering="crispEdges"/>
<line x1="192.3" y1="816" x2="192.3" y2="825" stroke="#111" stroke-width="2.7" stroke-dasharray="1 1" shape-rendering="crispEdges"/>
<line x1="197" y1="816" x2="197" y2="827.5" stroke="#111" stroke-width="2.7" stroke-dasharray="1 1" shape-rendering="crispEdges"/>
<line x1="198" y1="831" x2="198" y2="840" stroke="#111" stroke-width="2.7" stroke-dasharray="1 1" shape-rendering="crispEdges"/>
<line x1="200.6" y1="842.5" x2="200.6" y2="846" stroke="#111" stroke-width="2.7" stroke-dasharray="1 1" shape-rendering="crispEdges"/>
<line x1="202" y1="846" x2="202" y2="852.5" stroke="#111" stroke-width="2.7" stroke-dasharray="1 1" shape-rendering="crispEdges"/>
<line x1="205" y1="851" x2="205" y2="855" stroke="#111" stroke-width="2.7" stroke-dasharray="1 1" shape-rendering="crispEdges"/>
<line x1="208.8" y1="850" x2="208.8" y2="857.5" stroke="#111" stroke-width="2.7" stroke-dasharray="1 1" shape-rendering="crispEdges"/>
<line x1="179.5" y1="808" x2="179.5" y2="811" stroke="#111" stroke-width="2.7" stroke-dasharray="1 1" shape-rendering="crispEdges"/>
<line x1="187.5" y1="808" x2="187.5" y2="813" stroke="#111" stroke-width="2.7" stroke-dasharray="1 1" shape-rendering="crispEdges"/>
<path d="M189,812 H194.5 M181,808.5 H185" stroke="#111" stroke-width="1" stroke-dasharray="2 1" fill="none" shape-rendering="crispEdges"/>
<polyline points="210.40,865.00 212.80,865.00 212.80,873.00 215.20,873.00 215.20,877.00 217.60,877.00 217.60,880.00 220.00,880.00 220.00,885.00 222.40,885.00 222.40,891.00 224.80,891.00 224.80,895.00 227.20,895.00 227.20,901.00 229.60,901.00 229.60,905.00 232.00,905.00 232.00,908.00 234.40,908.00 234.40,911.00 236.80,911.00 236.80,913.00 239.20,913.00 239.20,917.00 241.60,917.00 241.60,919.00 244.00,919.00 244.00,922.00 246.40,922.00 246.40,924.00 248.80,924.00 248.80,925.00 251.20,925.00 251.20,926.00 253.60,926.00 253.60,927.00 256.00,927.00 256.00,929.00 258.40,929.00 258.40,930.00 260.80,930.00 260.80,931.00 263.20,931.00 263.20,933.00 265.60,933.00 265.60,933.00 268.00,933.00 268.00,935.00 270.40,935.00 270.40,935.00 272.80,935.00 272.80,936.00 275.20,936.00 275.20,937.00 277.60,937.00 277.60,937.00 280.00,937.00 280.00,938.00 282.40,938.00 282.40,939.00 284.80,939.00 284.80,940.00 287.20,940.00 287.20,939.00 289.60,939.00 289.60,941.00 292.00,941.00 292.00,940.00 294.40,940.00 294.40,941.00 296.80,941.00 296.80,941.00 299.20,941.00 299.20,942.00 300.00,942.00" fill="none" stroke="#111" stroke-width="1.7" stroke-dasharray="1 1" shape-rendering="crispEdges"/>
<rect x="226.6" y="899.5" width="3.4" height="2.6" fill="#111"/>
<polyline points="286.00,937.00 288.00,937.00 288.00,937.00 290.00,937.00 290.00,937.00 292.00,937.00 292.00,939.00 294.00,939.00 294.00,937.00 296.00,937.00 296.00,939.00 298.00,939.00 298.00,940.00 300.00,940.00 300.00,938.00 302.00,938.00 302.00,939.00 304.00,939.00 304.00,940.00 306.00,940.00 306.00,939.00 308.00,939.00 308.00,940.00 310.00,940.00 310.00,941.00 312.00,941.00 312.00,940.00 314.00,940.00 314.00,941.00 316.00,941.00 316.00,940.00 318.00,940.00 318.00,940.00 320.00,940.00 320.00,940.00 322.00,940.00 322.00,941.00 324.00,941.00 324.00,943.00 326.00,943.00 326.00,942.00 328.00,942.00 328.00,943.00 330.00,943.00 330.00,942.00 332.00,942.00 332.00,943.00 334.00,943.00 334.00,942.00 336.00,942.00 336.00,942.00 338.00,942.00 338.00,943.00 340.00,943.00 340.00,944.00 342.00,944.00 342.00,943.00 344.00,943.00 344.00,943.00 346.00,943.00 346.00,943.00 348.00,943.00 348.00,943.00 350.00,943.00" fill="none" stroke="#000" stroke-width="2.3" stroke-dasharray="7 1.5 3 1 9 2.5 4 1.5 2 1" shape-rendering="crispEdges"/>
<line x1="185.80" y1="780.00" x2="185.80" y2="804.00" stroke="#000" stroke-width="1.4"/>
<polyline points="163.00,860.00 165.00,860.00 165.00,856.00 167.00,856.00 167.00,849.00 169.00,849.00 169.00,840.00 171.00,840.00 171.00,819.00 173.00,819.00 173.00,809.00 175.00,809.00 175.00,803.00 177.00,803.00 177.00,795.00 179.00,795.00 179.00,791.00 181.00,791.00 181.00,787.00 183.00,787.00 183.00,786.00 185.00,786.00 185.00,782.00 187.00,782.00 187.00,778.00 189.00,778.00 189.00,777.00 191.00,777.00 191.00,781.00 193.00,781.00 193.00,786.00 195.00,786.00 195.00,790.00 197.00,790.00 197.00,793.00 199.00,793.00 199.00,798.00 201.00,798.00 201.00,803.00 203.00,803.00 203.00,807.00 205.00,807.00 205.00,811.00 207.00,811.00 207.00,813.00 209.00,813.00 209.00,816.00 211.00,816.00 211.00,821.00 213.00,821.00 213.00,823.00 215.00,823.00 215.00,829.00 217.00,829.00 217.00,836.00 219.00,836.00 219.00,843.00 221.00,843.00 221.00,854.00 223.00,854.00 223.00,863.00 225.00,863.00 225.00,867.00 227.00,867.00 227.00,873.00 229.00,873.00 229.00,877.00 231.00,877.00 231.00,884.00 233.00,884.00 233.00,887.00 235.00,887.00 235.00,888.00 237.00,888.00 237.00,892.00 239.00,892.00 239.00,898.00 241.00,898.00 241.00,903.00 243.00,903.00 243.00,908.00 245.00,908.00 245.00,911.00 247.00,911.00 247.00,914.00 249.00,914.00 249.00,915.00 251.00,915.00 251.00,914.00 253.00,914.00 253.00,918.00 255.00,918.00 255.00,923.00 257.00,923.00 257.00,923.00 259.00,923.00 259.00,923.00 261.00,923.00 261.00,925.00 263.00,925.00 263.00,927.00 265.00,927.00 265.00,931.00 267.00,931.00 267.00,934.00 269.00,934.00 269.00,934.00 271.00,934.00 271.00,936.00 273.00,936.00 273.00,935.00 275.00,935.00 275.00,936.00 277.00,936.00 277.00,936.00 279.00,936.00 279.00,937.00 281.00,937.00 281.00,936.00 283.00,936.00 283.00,937.00 285.00,937.00 285.00,938.00 287.00,938.00 287.00,937.00 288.00,937.00" fill="none" stroke="#000" stroke-width="3.6" stroke-linejoin="miter" stroke-linecap="square"/>
<rect x="121" y="670" width="355.2" height="278.20000000000005" fill="none" stroke="#000" stroke-width="2.6"/>
<rect x="119.3" y="668.8" width="3" height="280.6" fill="#000"/>
<line x1="113.20" y1="676.60" x2="120.00" y2="676.60" stroke="#000" stroke-width="1.7"/>
<line x1="116.30" y1="690.20" x2="120.00" y2="690.20" stroke="#000" stroke-width="1.6"/>
<line x1="116.30" y1="703.80" x2="120.00" y2="703.80" stroke="#000" stroke-width="1.6"/>
<line x1="116.30" y1="717.40" x2="120.00" y2="717.40" stroke="#000" stroke-width="1.6"/>
<line x1="116.30" y1="731.00" x2="120.00" y2="731.00" stroke="#000" stroke-width="1.6"/>
<line x1="113.20" y1="744.60" x2="120.00" y2="744.60" stroke="#000" stroke-width="1.7"/>
<line x1="116.30" y1="758.20" x2="120.00" y2="758.20" stroke="#000" stroke-width="1.6"/>
<line x1="116.30" y1="771.80" x2="120.00" y2="771.80" stroke="#000" stroke-width="1.6"/>
<line x1="116.30" y1="785.40" x2="120.00" y2="785.40" stroke="#000" stroke-width="1.6"/>
<line x1="116.30" y1="799.00" x2="120.00" y2="799.00" stroke="#000" stroke-width="1.6"/>
<line x1="113.20" y1="812.60" x2="120.00" y2="812.60" stroke="#000" stroke-width="1.7"/>
<line x1="116.30" y1="826.20" x2="120.00" y2="826.20" stroke="#000" stroke-width="1.6"/>
<line x1="116.30" y1="839.80" x2="120.00" y2="839.80" stroke="#000" stroke-width="1.6"/>
<line x1="116.30" y1="853.40" x2="120.00" y2="853.40" stroke="#000" stroke-width="1.6"/>
<line x1="116.30" y1="867.00" x2="120.00" y2="867.00" stroke="#000" stroke-width="1.6"/>
<line x1="113.20" y1="880.60" x2="120.00" y2="880.60" stroke="#000" stroke-width="1.7"/>
<line x1="116.30" y1="894.20" x2="120.00" y2="894.20" stroke="#000" stroke-width="1.6"/>
<line x1="116.30" y1="907.80" x2="120.00" y2="907.80" stroke="#000" stroke-width="1.6"/>
<line x1="116.30" y1="921.40" x2="120.00" y2="921.40" stroke="#000" stroke-width="1.6"/>
<line x1="116.30" y1="935.00" x2="120.00" y2="935.00" stroke="#000" stroke-width="1.6"/>
<text x="0.00" y="0.00" font-family='"Liberation Serif", "Times New Roman", serif' font-size="16.8" font-weight="bold" text-anchor="middle" transform="translate(107.6,677.4) rotate(-90)" stroke="#000" stroke-width="0.7" textLength="20.9" lengthAdjust="spacingAndGlyphs">160</text>
<text x="0.00" y="0.00" font-family='"Liberation Serif", "Times New Roman", serif' font-size="16.8" font-weight="bold" text-anchor="middle" transform="translate(107.6,744.6) rotate(-90)" stroke="#000" stroke-width="0.7" textLength="20.9" lengthAdjust="spacingAndGlyphs">120</text>
<text x="0.00" y="0.00" font-family='"Liberation Serif", "Times New Roman", serif' font-size="16.8" font-weight="bold" text-anchor="middle" transform="translate(107.6,811.6) rotate(-90)" stroke="#000" stroke-width="0.7" textLength="13.9" lengthAdjust="spacingAndGlyphs">80</text>
<text x="0.00" y="0.00" font-family='"Liberation Serif", "Times New Roman", serif' font-size="16.8" font-weight="bold" text-anchor="middle" transform="translate(107.6,880) rotate(-90)" stroke="#000" stroke-width="0.7" textLength="13.9" lengthAdjust="spacingAndGlyphs">40</text>
<text x="0.00" y="0.00" font-family='"Liberation Serif", "Times New Roman", serif' font-size="16.8" font-weight="bold" text-anchor="middle" transform="translate(107.6,946.2) rotate(-90)" stroke="#000" stroke-width="0.7" textLength="13.9" lengthAdjust="spacingAndGlyphs">20</text>
<line x1="121.90" y1="948.00" x2="121.90" y2="954.50" stroke="#000" stroke-width="1.7"/>
<line x1="173.38" y1="948.00" x2="173.38" y2="952.00" stroke="#000" stroke-width="1.5"/>
<line x1="203.49" y1="948.00" x2="203.49" y2="952.00" stroke="#000" stroke-width="1.5"/>
<line x1="224.85" y1="948.00" x2="224.85" y2="952.00" stroke="#000" stroke-width="1.5"/>
<line x1="241.42" y1="948.00" x2="241.42" y2="952.00" stroke="#000" stroke-width="1.5"/>
<line x1="254.96" y1="948.00" x2="254.96" y2="952.00" stroke="#000" stroke-width="1.5"/>
<line x1="266.41" y1="948.00" x2="266.41" y2="952.00" stroke="#000" stroke-width="1.5"/>
<line x1="276.33" y1="948.00" x2="276.33" y2="952.00" stroke="#000" stroke-width="1.5"/>
<line x1="285.08" y1="948.00" x2="285.08" y2="952.00" stroke="#000" stroke-width="1.5"/>
<line x1="292.90" y1="948.00" x2="292.90" y2="954.50" stroke="#000" stroke-width="1.7"/>
<line x1="344.38" y1="948.00" x2="344.38" y2="952.00" stroke="#000" stroke-width="1.5"/>
<line x1="374.49" y1="948.00" x2="374.49" y2="952.00" stroke="#000" stroke-width="1.5"/>
<line x1="395.85" y1="948.00" x2="395.85" y2="952.00" stroke="#000" stroke-width="1.5"/>
<line x1="412.42" y1="948.00" x2="412.42" y2="952.00" stroke="#000" stroke-width="1.5"/>
<line x1="425.96" y1="948.00" x2="425.96" y2="952.00" stroke="#000" stroke-width="1.5"/>
<line x1="437.41" y1="948.00" x2="437.41" y2="952.00" stroke="#000" stroke-width="1.5"/>
<line x1="447.33" y1="948.00" x2="447.33" y2="952.00" stroke="#000" stroke-width="1.5"/>
<line x1="456.08" y1="948.00" x2="456.08" y2="952.00" stroke="#000" stroke-width="1.5"/>
<line x1="463.90" y1="948.00" x2="463.90" y2="954.50" stroke="#000" stroke-width="1.7"/>
<text x="108.70" y="969.80" font-family='"Liberation Sans", Arial, Helvetica, sans-serif' font-size="17.3" font-weight="normal" text-anchor="start"  stroke="#000" stroke-width="0.4">10</text>
<text x="127.90" y="964.20" font-family='"Liberation Sans", Arial, Helvetica, sans-serif' font-size="12.5" font-weight="normal" text-anchor="start"  stroke="#000" stroke-width="0.4">0</text>
<text x="279.50" y="969.80" font-family='"Liberation Sans", Arial, Helvetica, sans-serif' font-size="17.3" font-weight="normal" text-anchor="start"  stroke="#000" stroke-width="0.4">10</text>
<text x="299.60" y="964.20" font-family='"Liberation Sans", Arial, Helvetica, sans-serif' font-size="12.5" font-weight="normal" text-anchor="start"  stroke="#000" stroke-width="0.4">1</text>
<text x="450.30" y="969.80" font-family='"Liberation Sans", Arial, Helvetica, sans-serif' font-size="17.3" font-weight="normal" text-anchor="start"  stroke="#000" stroke-width="0.4">10</text>
<text x="469.50" y="964.20" font-family='"Liberation Sans", Arial, Helvetica, sans-serif' font-size="12.5" font-weight="normal" text-anchor="start"  stroke="#000" stroke-width="0.4">2</text>
<text x="0.00" y="0.00" font-family='"Liberation Sans", Arial, Helvetica, sans-serif' font-size="17.2" font-weight="normal" text-anchor="middle" transform="translate(83.3,771.8) rotate(-90)" textLength="53" lengthAdjust="spacingAndGlyphs" stroke="#000" stroke-width="0.4">Counts</text>
<text x="25.20" y="664.00" font-family='"Liberation Sans", Arial, Helvetica, sans-serif' font-size="19.5" font-weight="bold" text-anchor="start" stroke="#000" stroke-width="1.1">C</text>
<text x="132.00" y="712.60" font-family='"Liberation Sans", Arial, Helvetica, sans-serif' font-size="18.2" font-weight="bold" text-anchor="start" textLength="44.8" lengthAdjust="spacing" stroke="#000" stroke-width="0.8">3A1e</text>
<text x="142.60" y="772.00" font-family='"Liberation Sans", Arial, Helvetica, sans-serif' font-size="18.3" font-weight="bold" text-anchor="start" textLength="105" lengthAdjust="spacingAndGlyphs" stroke="#000" stroke-width="0.6">DTCD22CD22</text>
<text x="246.60" y="790.30" font-family='"Liberation Sans", Arial, Helvetica, sans-serif' font-size="18.3" font-weight="bold" text-anchor="start" textLength="63" lengthAdjust="spacingAndGlyphs" stroke="#000" stroke-width="0.6">DTCD19</text>
<text x="324.60" y="878.00" font-family='"Liberation Sans", Arial, Helvetica, sans-serif' font-size="18.3" font-weight="bold" text-anchor="start" textLength="104.5" lengthAdjust="spacingAndGlyphs" stroke="#000" stroke-width="0.6">DTCD22CD19</text>
<line x1="138.50" y1="726.00" x2="138.50" y2="811.00" stroke="#444" stroke-width="1.4"/>
<polygon points="134.6,809.5 142.6,809.5 138.6,819" fill="#000"/>
<line x1="158.60" y1="775.00" x2="158.60" y2="817.00" stroke="#333" stroke-width="1.6"/>
<polygon points="154.8,816 162.8,816 158.8,826.3" fill="#000"/>
<line x1="209.00" y1="783.80" x2="240.50" y2="783.80" stroke="#000" stroke-width="1.6"/>
<polygon points="201.8,783.8 210.5,778.6 210.5,789" fill="#000"/>
<line x1="295.00" y1="871.00" x2="315.30" y2="871.00" stroke="#000" stroke-width="1.6"/>
<polygon points="286.8,871 296.3,865 296.3,877.2" fill="#000"/>
</g>
</g>
</svg>
</body></html>
